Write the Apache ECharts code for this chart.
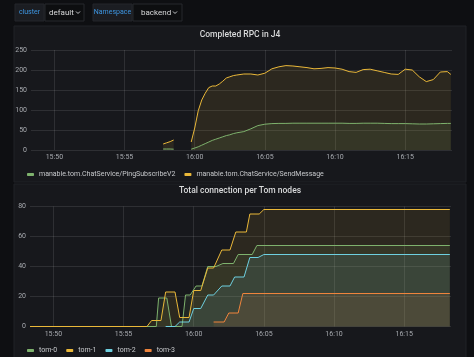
<!DOCTYPE html>
<html><head><meta charset="utf-8">
<script src="https://cdn.jsdelivr.net/npm/echarts@6/dist/echarts.min.js"></script>
<style>html,body{margin:0;padding:0;background:#0e0f12;overflow:hidden}#c{width:474px;height:357px}</style>
</head><body><div id="c"></div>
<script>
// ---------- data ----------
const windowStart = '15:48:20';
const windowEnd = '16:18:20';
const xTickLabels = ['15:50','15:55','16:00','16:05','16:10','16:15'];

const rpcSeriesNames = ['manabie.tom.ChatService/PingSubscribeV2', 'manabie.tom.ChatService/SendMessage'];
const rpcTimes = ['15:57:45','15:58:00','15:58:15','15:58:30','15:59:00','15:59:45','16:00:00','16:00:15','16:00:30','16:00:45','16:01:00','16:01:15','16:01:30','16:01:45','16:02:00','16:02:15','16:02:30','16:02:45','16:03:00','16:03:30','16:04:00','16:04:30','16:05:00','16:05:30',
  '16:06:00','16:06:30','16:07:00','16:07:30','16:08:00','16:08:30','16:09:00','16:09:30','16:10:00','16:10:30','16:11:00','16:11:30','16:12:00','16:12:30','16:13:00','16:13:30','16:14:00','16:14:30','16:15:00','16:15:30','16:16:00','16:16:30','16:17:00','16:17:30','16:18:00','16:18:15'];
const pingSubscribeV2 = [2.5,2.5,2.5,2,null,2,5,8,12,16,20,24,27,30,33,36,38,41,43,46,53,61,64.5,66,
  66.5,66.5,67,67,67,67,67,67,67,67,66.5,66.5,67,67,67,66.5,66,66,66,65.5,65,65,65.5,66,66.5,66.5];
const sendMessage = [15,18,21,25,null,20,55,98,125,142,156,160,160,165,172,180,183,186,187.5,190,190,187.5,192,203,
  208,211,210,208,206,203,204,206,205,202,196,194,201,202,198,194,190,189,202,200,183,171,176,195,196,189];

const tomNames = ['tom-0','tom-1','tom-2','tom-3'];
const tom0Times = ['15:48:20','15:57:20','15:57:30','15:58:05','15:58:25','15:59:10','15:59:25','15:59:45','16:00:10','16:00:35','16:01:00','16:01:35','16:02:05','16:02:50','16:03:10','16:04:10','16:04:30','16:18:15'];
const tom0Values = [0,0,19,19,0,0,21,21,27,27,40,40,42,42,48,48,54,54];
const tom1Times = ['15:48:20','15:56:40','15:57:00','15:57:40','15:58:00','15:58:40','15:59:00','15:59:40','16:00:00','16:00:30','16:01:00','16:01:25','16:02:00','16:02:35','16:03:00','16:03:45','16:04:00','16:04:40','16:05:00','16:18:15'];
const tom1Values = [0,0,4,4,23,23,6,6,24,24,39,39,51,51,63,63,75,75,78,78];
const tom2Times = ['15:58:00','15:58:40','15:59:00','15:59:40','16:00:00','16:00:30','16:01:00','16:01:25','16:02:00','16:02:35','16:02:55','16:03:35','16:04:00','16:04:35','16:05:00','16:18:15'];
const tom2Values = [0,0,3,3,12,12,21,21,27,27,33,33,46,46,48,48];
const tom3Times = ['16:01:25','16:02:10','16:02:30','16:03:10','16:03:30','16:18:15'];
const tom3Values = [3,3,9,9,22,22];

const rpcYMax = 250, rpcYStep = 50;
const tomYMax = 80, tomYStep = 20;

// ---------- helpers ----------
function t(s){const p=s.split(':').map(Number);return (p[0]*3600+p[1]*60+(p[2]||0));}
function pairs(times, vals){return times.map((s,i)=>[t(s), vals[i]]);}
function hm(v){const h=Math.floor(v/3600), m=Math.round((v-h*3600)/60);return String(h).padStart(2,'0')+':'+String(m).padStart(2,'0');}
const xTickValues = xTickLabels.map(t);

const C = {green:'#7EB26D', yellow:'#EAB839', cyan:'#6ED0E0', orange:'#EF843C'};
const FONT = 'Roboto, "Noto Sans", sans-serif';
const gridLine = {show:true, lineStyle:{color:'rgba(255,255,255,0.10)', width:1}};
const lbl = {color:'#a7aaaf', fontSize:7, fontFamily:FONT, margin:4};

function xAxis(gi){return {type:'value', gridIndex:gi, min:t(windowStart), max:t(windowEnd),
  axisLine:{show:false}, axisTick:{show:false, customValues:xTickValues}, splitLine:gridLine,
  axisLabel:Object.assign({}, lbl, {formatter:hm, customValues:xTickValues, hideOverlap:false})};}
function yAxis(gi,max,step){return {type:'value', gridIndex:gi, min:0, max:max, interval:step,
  axisLine:{show:false}, axisTick:{show:false}, splitLine:gridLine, axisLabel:lbl};}
function line(name, color, xi, data, op){return {name, type:'line', xAxisIndex:xi, yAxisIndex:xi, data, color,
  showSymbol:false, symbol:'none', connectNulls:false, animation:false,
  lineStyle:{width:1, color}, areaStyle:{color, opacity:op||0.1}};}

function chevron(x,y){return {type:'polyline', shape:{points:[[x-2,y-1],[x,y+1],[x+2,y-1]]}, style:{stroke:'#c7c9cc', lineWidth:1, fill:null}};}
function txt(x,y,text,fill,size,align,weight){return {type:'text', x, y, style:{text, fill, font:(weight||'normal')+' '+size+'px '+FONT, align:align||'left', verticalAlign:'middle'}};}

const chart = echarts.init(document.getElementById('c'), null, {renderer:'canvas'});
chart.setOption({
  backgroundColor:'#0e0f12',
  animation:false,
  graphic:[
    {type:'rect', shape:{x:14,y:26,width:452,height:156}, style:{fill:'#17181c', stroke:'#202226', lineWidth:1}, z:-10},
    {type:'rect', shape:{x:14,y:184,width:452,height:180}, style:{fill:'#17181c', stroke:'#202226', lineWidth:1}, z:-10},
    {type:'rect', shape:{x:15,y:4,width:29,height:17}, style:{fill:'#1b1d22', stroke:'#24262b'}},
    txt(29.5,12.5,'cluster','#3d95e0',7,'center'),
    {type:'rect', shape:{x:45,y:4,width:39,height:17}, style:{fill:'#0d0e10', stroke:'#26282c'}},
    txt(49,12.5,'default','#d8d9da',8,'left'),
    chevron(78,12.5),
    {type:'rect', shape:{x:93,y:4,width:39,height:17}, style:{fill:'#1b1d22', stroke:'#24262b'}},
    txt(112.5,12.5,'Namespace','#3d95e0',7,'center'),
    {type:'rect', shape:{x:133,y:4,width:49,height:17}, style:{fill:'#0d0e10', stroke:'#26282c'}},
    txt(141,12.5,'backend','#d8d9da',8,'left'),
    chevron(175,12.5),
    txt(240,34.5,'Completed RPC in J4','#d8d9da',8.5,'center','500'),
    txt(240,191,'Total connection per Tom nodes','#d8d9da',8.5,'center','500')
  ],
  grid:[
    {left:31, top:50, width:421, height:100, containLabel:false},
    {left:30, top:206.5, width:421, height:120, containLabel:false}
  ],
  xAxis:[xAxis(0), xAxis(1)],
  yAxis:[yAxis(0,rpcYMax,rpcYStep), yAxis(1,tomYMax,tomYStep)],
  legend:[
    {data:rpcSeriesNames, left:22, top:166, itemWidth:7, itemHeight:3, icon:'roundRect', itemGap:9, selectedMode:false,
     textStyle:{color:'#c7c9cc', fontSize:7, fontFamily:FONT}},
    {data:tomNames, left:22, top:342, itemWidth:7, itemHeight:3, icon:'roundRect', itemGap:9, selectedMode:false,
     textStyle:{color:'#c7c9cc', fontSize:7, fontFamily:FONT}}
  ],
  series:[
    line(rpcSeriesNames[0], C.green, 0, pairs(rpcTimes, pingSubscribeV2)),
    line(rpcSeriesNames[1], C.yellow, 0, pairs(rpcTimes, sendMessage)),
    line(tomNames[0], C.green, 1, pairs(tom0Times, tom0Values)),
    line(tomNames[1], C.yellow, 1, pairs(tom1Times, tom1Values)),
    line(tomNames[2], C.cyan, 1, pairs(tom2Times, tom2Values)),
    line(tomNames[3], C.orange, 1, pairs(tom3Times, tom3Values))
  ]
});
</script></body></html>
